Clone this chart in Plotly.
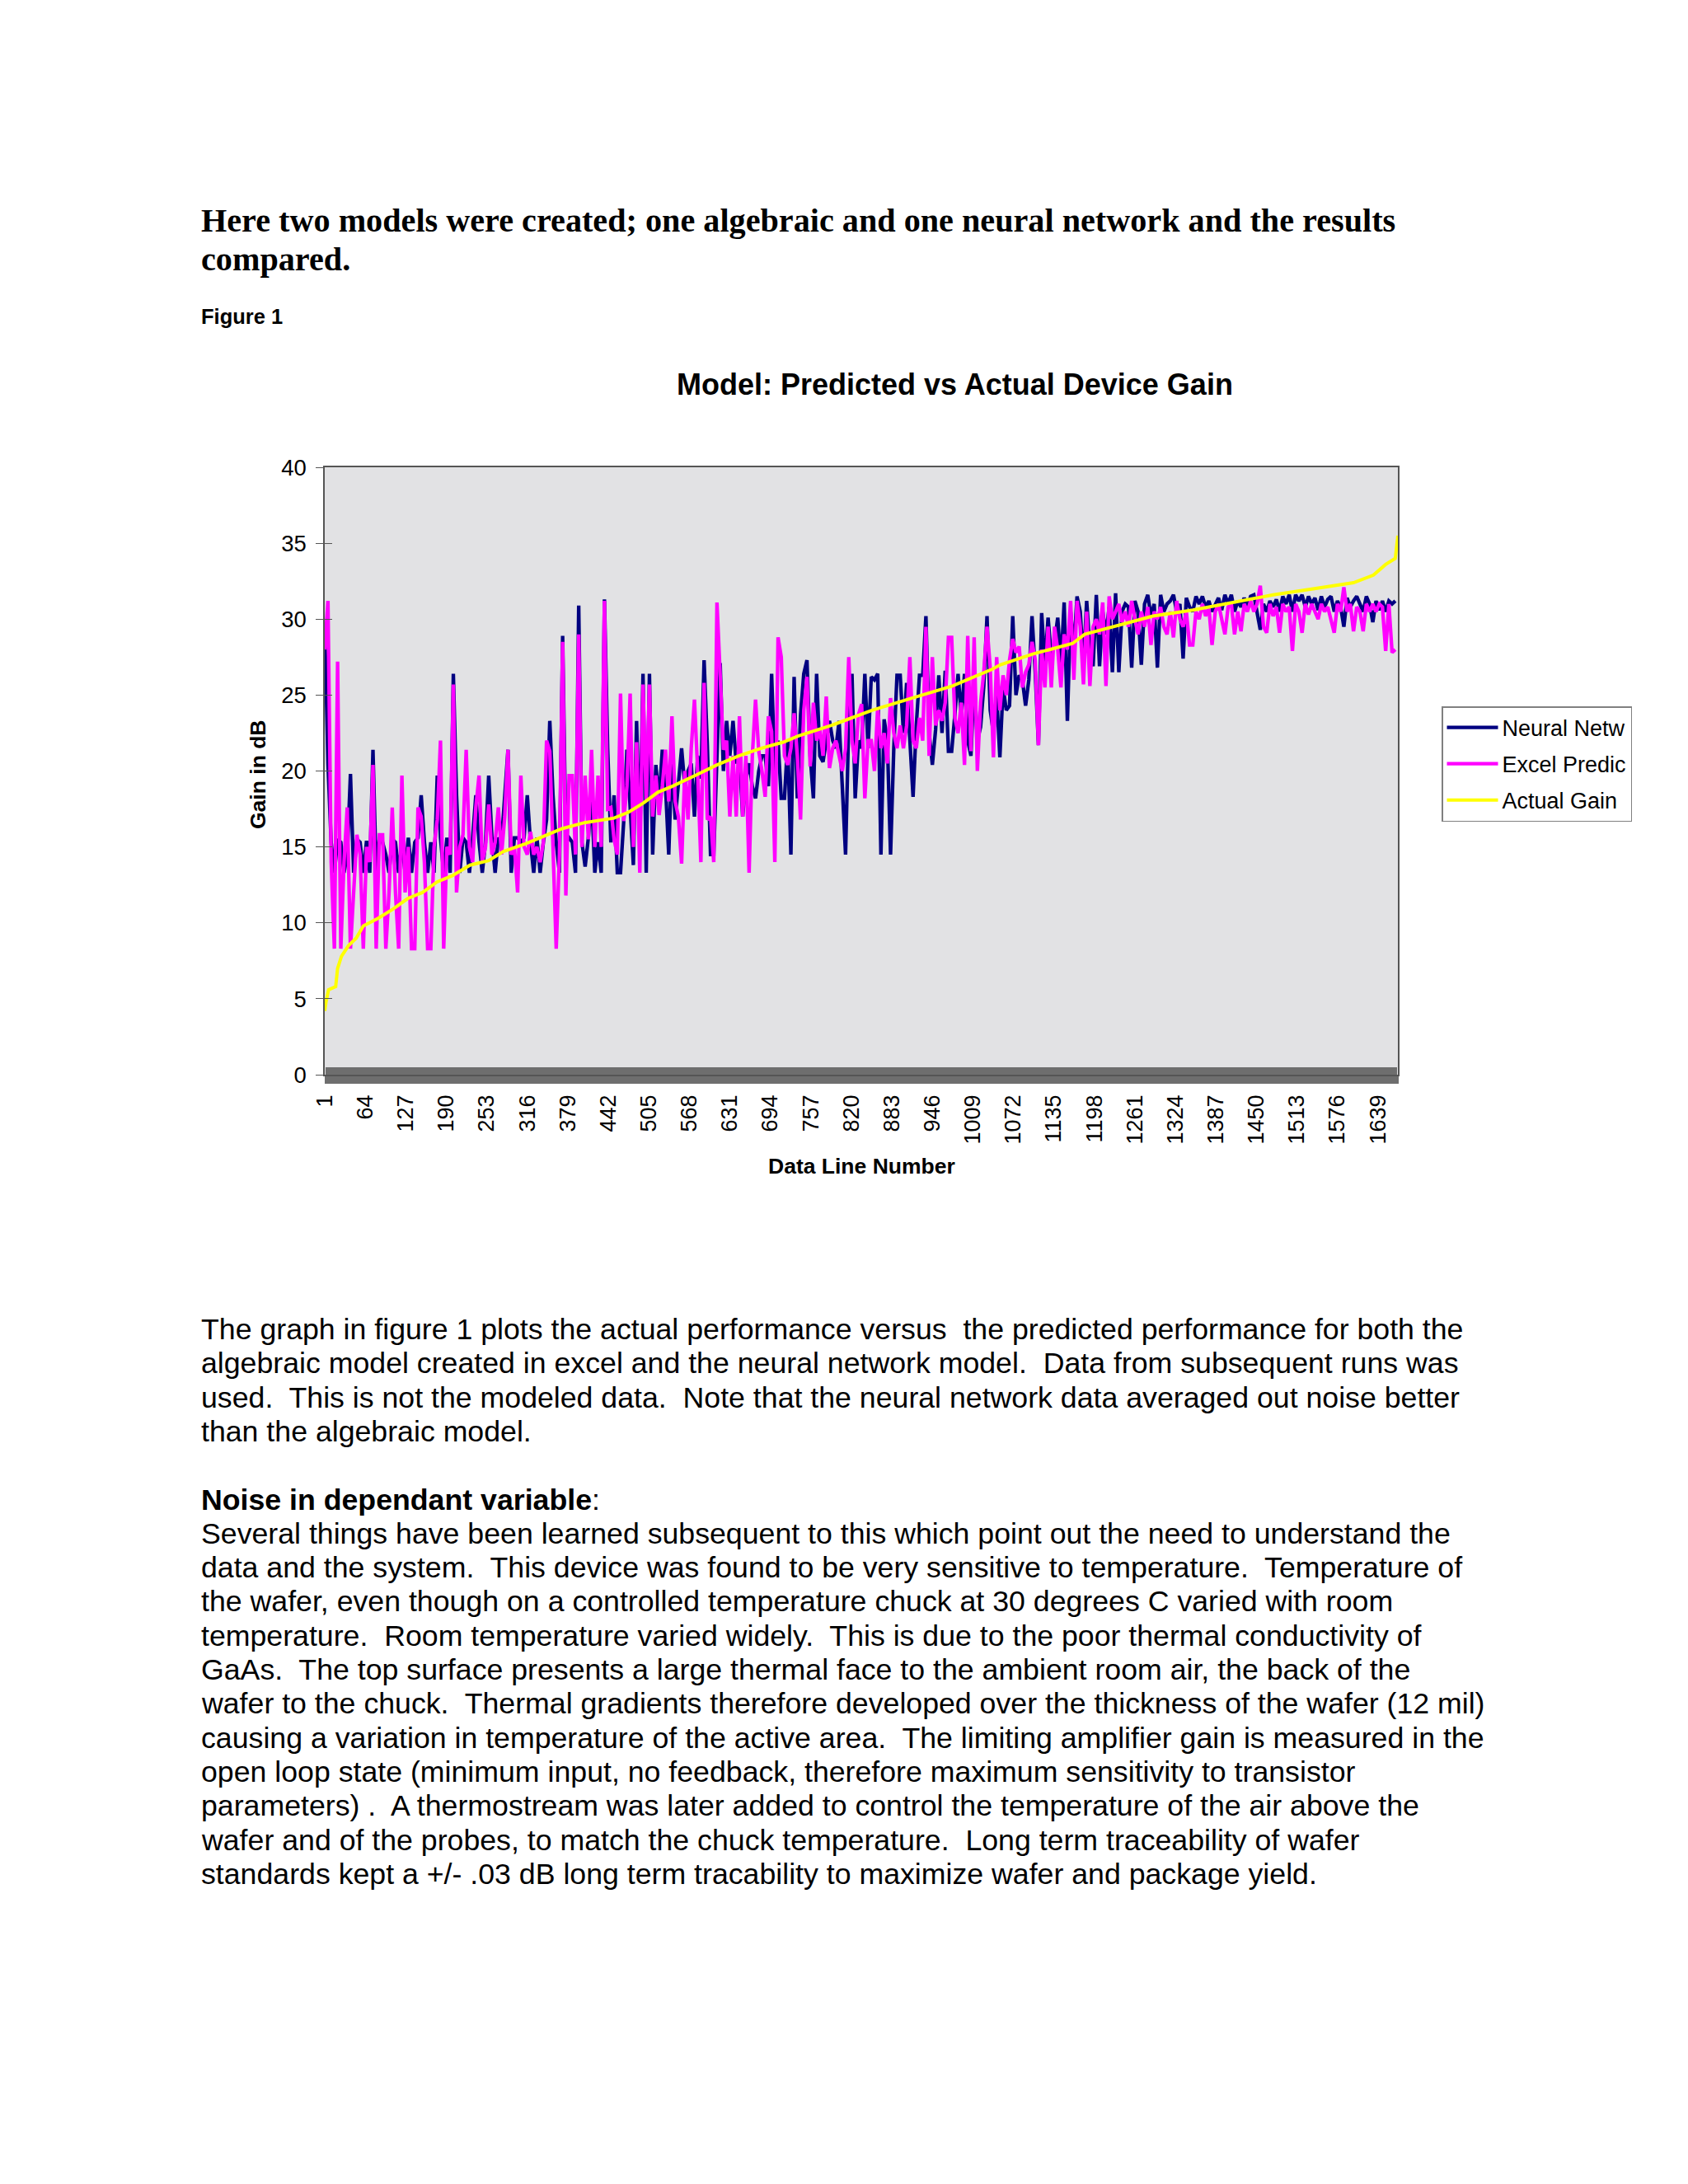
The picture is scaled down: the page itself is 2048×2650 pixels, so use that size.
import plotly.graph_objects as go

# ---------------- data ----------------
N_LINES = 1670
sample_lines = list(range(1, 1667, 5))          # data line numbers of sampled points (334)

tick_labels = [1, 64, 127, 190, 253, 316, 379, 442, 505, 568, 631, 694, 757, 820, 883,
               946, 1009, 1072, 1135, 1198, 1261, 1324, 1387, 1450, 1513, 1576, 1639]
y_ticks = [0, 5, 10, 15, 20, 25, 30, 35, 40]

nn_values = [
    29.5, 20.5, 15.3, 13.3, 15.5, 15.3, 13.3, 14.5, 19.8, 13.3,
    15.5, 15.3, 13.3, 15.4, 13.3, 21.4, 13.3, 15.6, 15.3, 14.5,
    13.3, 15.5, 15.3, 13.3, 15.3, 13.3, 15.6, 13.3, 15.3, 15.6,
    18.4, 15.3, 13.3, 15.3, 13.3, 19.7, 15.6, 13.3, 15.6, 13.3,
    26.4, 18.4, 13.3, 15.6, 15.3, 13.3, 15.6, 18.4, 15.3, 13.3,
    15.3, 19.7, 15.6, 13.3, 15.6, 15.3, 18.4, 21.4, 13.3, 15.6,
    15.6, 15.3, 15.6, 18.4, 15.3, 13.3, 15.6, 13.3, 15.3, 16.8,
    23.3, 18.4, 15.3, 13.3, 28.9, 15.3, 15.6, 15.3, 13.3, 30.9,
    15.3, 13.7, 15.6, 18.4, 13.3, 15.3, 13.3, 31.3, 21.5, 15.3,
    18.4, 13.3, 13.3, 16.7, 21.4, 17.0, 13.8, 23.3, 15.3, 26.4,
    13.3, 26.4, 14.5, 20.4, 18.0, 21.4, 19.0, 14.5, 21.0, 16.8,
    19.0, 21.5, 19.0, 20.0, 20.5, 17.0, 21.0, 19.5, 27.3, 21.7,
    14.5, 14.5, 21.0, 27.1, 20.0, 23.3, 21.0, 23.3, 20.5, 21.0,
    17.0, 19.5, 20.5, 19.0, 18.2, 20.0, 21.0, 21.0, 19.0, 26.4,
    20.0, 22.0, 18.2, 18.2, 22.0, 14.5, 26.2, 18.2, 23.7, 26.4,
    27.3, 21.0, 18.2, 26.4, 21.0, 20.6, 22.0, 23.3, 22.0, 21.5,
    23.3, 18.2, 14.5, 23.3, 26.4, 18.2, 22.0, 21.5, 26.4, 21.5,
    26.2, 26.0, 26.4, 14.5, 23.4, 22.0, 14.5, 21.5, 26.3, 26.3,
    22.5, 25.8, 22.0, 18.3, 23.0, 26.3, 26.3, 30.2, 22.5, 20.4,
    22.7, 26.3, 22.5, 26.6, 21.3, 21.3, 23.7, 26.4, 23.6, 26.4,
    22.0, 21.0, 26.0, 22.0, 22.9, 25.6, 30.2, 24.0, 22.5, 25.0,
    20.9, 25.5, 24.0, 24.3, 30.2, 25.0, 26.3, 26.0, 24.3, 26.0,
    30.2, 26.5, 21.7, 30.4, 27.0, 30.1, 27.5, 28.5, 30.1, 27.0,
    31.1, 23.3, 30.5, 28.0, 31.5, 30.5, 27.0, 31.2, 28.0, 26.9,
    31.6, 26.9, 30.5, 29.0, 30.8, 26.5, 31.7, 26.5, 30.5, 31.0,
    30.8, 26.8, 31.2, 30.5, 27.0, 31.0, 31.6, 30.2, 31.0, 26.8,
    31.6, 30.5, 31.0, 31.2, 31.6, 30.5, 31.0, 27.4, 31.4, 30.8,
    30.5, 31.5, 31.0, 31.5, 30.8, 31.2, 30.5, 31.0, 31.4, 30.6,
    31.6, 31.0, 31.6, 30.5, 31.2, 30.8, 31.4, 30.8, 31.5, 31.6,
    30.5, 29.3, 31.0, 30.5, 31.2, 30.8, 31.3, 30.5, 31.5, 31.0,
    31.6, 30.5, 31.6, 31.2, 31.6, 30.8, 31.5, 31.0, 31.4, 30.6,
    31.5, 30.8, 31.3, 31.5, 30.5, 31.2, 30.8, 29.5, 31.4, 30.8,
    31.2, 31.5, 31.0, 30.5, 31.5, 31.0, 29.8, 31.2, 30.6, 31.2,
    30.5, 31.2, 31.0, 31.2,
]

ex_values = [
    28.0, 31.2, 14.0, 8.3, 27.2, 8.3, 14.0, 17.6, 8.3, 12.0,
    15.8, 14.5, 8.3, 15.0, 14.0, 20.4, 8.3, 15.8, 15.8, 8.3,
    12.0, 17.6, 12.0, 8.3, 19.7, 12.0, 15.0, 8.3, 8.3, 17.6,
    17.0, 14.0, 8.3, 8.3, 15.0, 16.8, 22.0, 8.3, 15.0, 14.5,
    25.7, 12.0, 15.0, 15.8, 21.4, 15.0, 14.0, 17.6, 19.7, 14.0,
    15.0, 17.8, 14.5, 15.3, 17.6, 14.5, 17.0, 21.4, 14.5, 15.0,
    12.0, 19.7, 15.0, 14.5, 16.0, 14.5, 15.0, 14.0, 15.3, 22.0,
    21.3, 15.0, 8.3, 14.5, 28.5, 11.8, 19.7, 19.7, 14.5, 29.0,
    15.0, 19.7, 15.5, 21.4, 15.0, 19.7, 15.0, 31.2, 17.5, 17.6,
    15.5, 14.5, 25.1, 16.7, 19.0, 25.1, 15.0, 21.9, 13.3, 25.7,
    18.0, 25.7, 17.0, 19.7, 17.1, 19.0, 21.4, 18.0, 23.6, 18.0,
    17.0, 13.9, 20.0, 16.8, 21.5, 24.7, 20.0, 14.0, 25.8, 16.8,
    17.0, 14.0, 31.1, 26.3, 21.4, 22.0, 17.0, 21.0, 17.0, 23.6,
    17.0, 21.0, 13.3, 21.0, 24.7, 21.3, 20.0, 18.3, 23.6, 22.6,
    14.0, 28.8, 27.5, 21.0, 20.4, 21.5, 23.8, 21.0, 16.8, 24.0,
    26.2, 20.3, 24.5, 22.0, 22.8, 21.0, 24.9, 20.2, 21.5, 22.0,
    21.0, 20.0, 21.5, 27.5, 22.0, 20.5, 23.7, 24.4, 18.2, 22.0,
    22.0, 20.0, 24.2, 21.5, 22.5, 20.5, 24.8, 22.5, 21.5, 23.0,
    21.5, 23.0, 27.5, 22.0, 21.5, 23.5, 22.0, 29.5, 21.0, 27.5,
    23.0, 24.0, 23.3, 24.5, 28.8, 28.8, 23.5, 22.5, 24.5, 20.4,
    28.9, 21.3, 28.8, 20.0, 24.5, 26.5, 29.5, 26.8, 20.9, 27.5,
    24.0, 26.3, 25.0, 27.3, 28.7, 27.8, 28.2, 25.5, 26.5, 27.0,
    28.5, 27.3, 21.7, 28.0, 25.5, 29.5, 25.5, 29.5, 28.0, 25.5,
    29.0, 28.0, 31.2, 26.0, 31.2, 29.5, 25.7, 30.5, 25.6, 29.5,
    30.0, 29.0, 31.1, 25.6, 31.5, 30.0, 30.5, 31.0, 29.8, 30.5,
    29.5, 31.2, 30.0, 29.0, 30.5, 29.5, 30.8, 28.3, 30.5, 30.0,
    30.8, 29.5, 29.0, 30.5, 28.8, 31.2, 30.0, 29.5, 30.5, 28.3,
    28.3, 30.5, 30.0, 31.0, 30.2, 30.8, 28.3, 30.5, 31.0, 30.0,
    29.0, 30.8, 31.0, 29.0, 30.5, 29.2, 31.0, 30.5, 31.2, 30.5,
    31.0, 32.2, 29.5, 29.1, 31.0, 30.2, 30.8, 29.1, 31.0, 30.5,
    30.8, 27.9, 31.0, 30.5, 29.1, 31.0, 30.3, 31.0, 30.5, 30.0,
    31.0, 30.5, 30.8, 30.0, 29.1, 31.0, 30.5, 32.1, 30.5, 31.0,
    29.2, 30.8, 30.5, 29.2, 31.0, 30.5, 31.0, 30.5, 31.0, 30.8,
    27.9, 31.0, 27.8, 28.0,
]

actual_lines = [1, 3, 7, 18, 21, 27, 38, 50, 61, 84, 107, 130, 153, 176, 199, 227, 256, 279,
                313, 342, 370, 405, 451, 474, 497, 519, 542, 577, 611, 645, 680, 714, 737, 789,
                852, 914, 977, 1039, 1052, 1102, 1164, 1183, 1226, 1289, 1351, 1414, 1476,
                1538, 1601, 1632, 1651, 1666, 1669, 1670]
actual_values = [4.2, 4.8, 5.6, 5.8, 7.0, 7.8, 8.5, 9.0, 9.8, 10.3, 10.9, 11.6, 12.0, 12.7,
                 13.1, 13.8, 14.1, 14.7, 15.2, 15.7, 16.2, 16.6, 16.9, 17.3, 17.9, 18.6, 19.0,
                 19.7, 20.4, 21.0, 21.5, 21.9, 22.3, 23.0, 24.0, 24.8, 25.6, 26.7, 27.0, 27.7,
                 28.4, 29.0, 29.5, 30.2, 30.6, 31.1, 31.6, 32.0, 32.4, 32.9, 33.6, 34.0, 35.4,
                 35.5]

series_names = ["Neural Netw", "Excel Predic", "Actual Gain"]

heading_lines = ["Here two models were created; one algebraic and one neural network and the results",
                 "compared."]
figure_label = "Figure 1"
chart_title = "Model: Predicted vs Actual Device Gain"
x_title = "Data Line Number"
y_title = "Gain in dB"

body_lines = [
    "The graph in figure 1 plots the actual performance versus  the predicted performance for both the",
    "algebraic model created in excel and the neural network model.  Data from subsequent runs was",
    "used.  This is not the modeled data.  Note that the neural network data averaged out noise better",
    "than the algebraic model.",
    "",
    "<b>Noise in dependant variable</b>:",
    "Several things have been learned subsequent to this which point out the need to understand the",
    "data and the system.  This device was found to be very sensitive to temperature.  Temperature of",
    "the wafer, even though on a controlled temperature chuck at 30 degrees C varied with room",
    "temperature.  Room temperature varied widely.  This is due to the poor thermal conductivity of",
    "GaAs.  The top surface presents a large thermal face to the ambient room air, the back of the",
    "wafer to the chuck.  Thermal gradients therefore developed over the thickness of the wafer (12 mil)",
    "causing a variation in temperature of the active area.  The limiting amplifier gain is measured in the",
    "open loop state (minimum input, no feedback, therefore maximum sensitivity to transistor",
    "parameters) .  A thermostream was later added to control the temperature of the air above the",
    "wafer and of the probes, to match the chuck temperature.  Long term traceability of wafer",
    "standards kept a +/- .03 dB long term tracability to maximize wafer and package yield.",
]

# ---------------- layout geometry ----------------
# the page body has an 8px margin, so the figure is made 2040 x 2642 and page
# coordinates are the figure coordinates + 8
W, H = 2040, 2642
L, T = 386, 559
PW, PH = 1302, 737
R = W - L - PW
B = H - T - PH
PLOT_LEFT_PAGE, PLOT_BOTTOM_PAGE = 394, 1304


def px(x):
    return (x - PLOT_LEFT_PAGE) / PW


def py(y):
    return (PLOT_BOTTOM_PAGE - y) / PH


SANS = "Liberation Sans"
SERIF = "Liberation Serif"
TICKC = "#6e6e6e"

fig = go.Figure()
fig.add_trace(go.Scatter(x=sample_lines, y=nn_values, mode="lines", name=series_names[0],
                         line=dict(color="#000080", width=4.3), legendgroup="a"))
fig.add_trace(go.Scatter(x=sample_lines, y=ex_values, mode="lines", name=series_names[1],
                         line=dict(color="#FF00FF", width=4.3), legendgroup="b"))
fig.add_trace(go.Scatter(x=actual_lines, y=actual_values, mode="lines", name=series_names[2],
                         line=dict(color="#FFFF00", width=4), legendgroup="c"))
# helper trace so the overlay axes (inner halves of crossing ticks) get drawn
fig.add_trace(go.Scatter(x=[None], y=[None], xaxis="x2", yaxis="y2", showlegend=False,
                         hoverinfo="skip"))

minor_out = dict(tickmode="linear", tick0=1, dtick=1, ticks="outside", ticklen=9,
                 tickwidth=0.7, tickcolor=TICKC)
minor_in = dict(tickmode="linear", tick0=1, dtick=1, ticks="inside", ticklen=9,
                tickwidth=0.7, tickcolor=TICKC)

annotations = []
annotations.append(dict(text=f"<b>{chart_title}</b>", x=px(1158), y=py(466), xref="paper",
                        yref="paper", showarrow=False, xanchor="center", yanchor="middle",
                        font=dict(family=SANS, size=36, color="black")))
annotations.append(dict(text=f"<b>{x_title}</b>", x=px(1045), y=py(1415), xref="paper",
                        yref="paper", showarrow=False, xanchor="center", yanchor="middle",
                        font=dict(family=SANS, size=26.5, color="black")))
annotations.append(dict(text=f"<b>{y_title}</b>", x=px(313), y=py(940), xref="paper",
                        yref="paper", showarrow=False, xanchor="center", yanchor="middle",
                        textangle=-90, font=dict(family=SANS, size=26.5, color="black")))
for i, line in enumerate(heading_lines):
    annotations.append(dict(text=f"<b>{line}</b>", x=px(242), y=py(267.5 + 47 * i), xref="paper",
                            yref="paper", showarrow=False, xanchor="left", yanchor="middle",
                            font=dict(family=SERIF, size=40.2, color="black")))
annotations.append(dict(text=f"<b>{figure_label}</b>", x=px(242), y=py(384), xref="paper",
                        yref="paper", showarrow=False, xanchor="left", yanchor="middle",
                        font=dict(family=SANS, size=25.5, color="black")))
for k, line in enumerate(body_lines):
    if not line:
        continue
    annotations.append(dict(text=line.replace("  ", "\u00a0 "), x=px(242), y=py(1613 + 41.3 * k),
                            xref="paper", yref="paper", showarrow=False, xanchor="left",
                            yanchor="middle", font=dict(family=SANS, size=35.7, color="black")))

fig.update_layout(
    width=W, height=H,
    margin=dict(l=L, r=R, t=T, b=B, autoexpand=False),
    paper_bgcolor="white",
    plot_bgcolor="#e2e2e4",
    font=dict(family=SANS, color="black"),
    showlegend=True,
    legend=dict(x=px(1749), y=py(857), xanchor="left", yanchor="top", bgcolor="white",
                bordercolor="#808080", borderwidth=1.5, font=dict(family=SANS, size=27),
                tracegroupgap=6, itemwidth=62),
    xaxis=dict(range=[1, N_LINES], tickmode="array", tickvals=tick_labels,
               ticktext=[str(v) for v in tick_labels], tickangle=-90, ticks="outside",
               ticklen=9, tickwidth=0.7, tickcolor=TICKC, minor=minor_out,
               showline=True, linecolor="#555555", linewidth=1.5, mirror=True,
               showgrid=False, zeroline=False, tickfont=dict(family=SANS, size=27),
               ticklabelstandoff=3),
    xaxis2=dict(range=[1, N_LINES], overlaying="x", anchor="y2", side="bottom",
                tickmode="array", tickvals=tick_labels, ticks="inside", ticklen=9,
                tickwidth=0.7, tickcolor=TICKC, minor=minor_in, showticklabels=False,
                showline=False, showgrid=False, zeroline=False),
    yaxis=dict(range=[0, 40], tickmode="array", tickvals=y_ticks, ticks="outside",
               ticklen=9, tickwidth=1.2, tickcolor="#555555", showline=True,
               linecolor="#555555", linewidth=1.5, mirror=True, showgrid=False,
               zeroline=False, tickfont=dict(family=SANS, size=27.5), ticklabelstandoff=6),
    yaxis2=dict(range=[0, 40], overlaying="y", anchor="x2", side="left", tickmode="array",
                tickvals=y_ticks, ticks="inside", ticklen=9, tickwidth=1.2, tickcolor="#555555",
                showticklabels=False, showline=False, showgrid=False, zeroline=False),
    annotations=annotations,
)

fig.write_html("out.html")
